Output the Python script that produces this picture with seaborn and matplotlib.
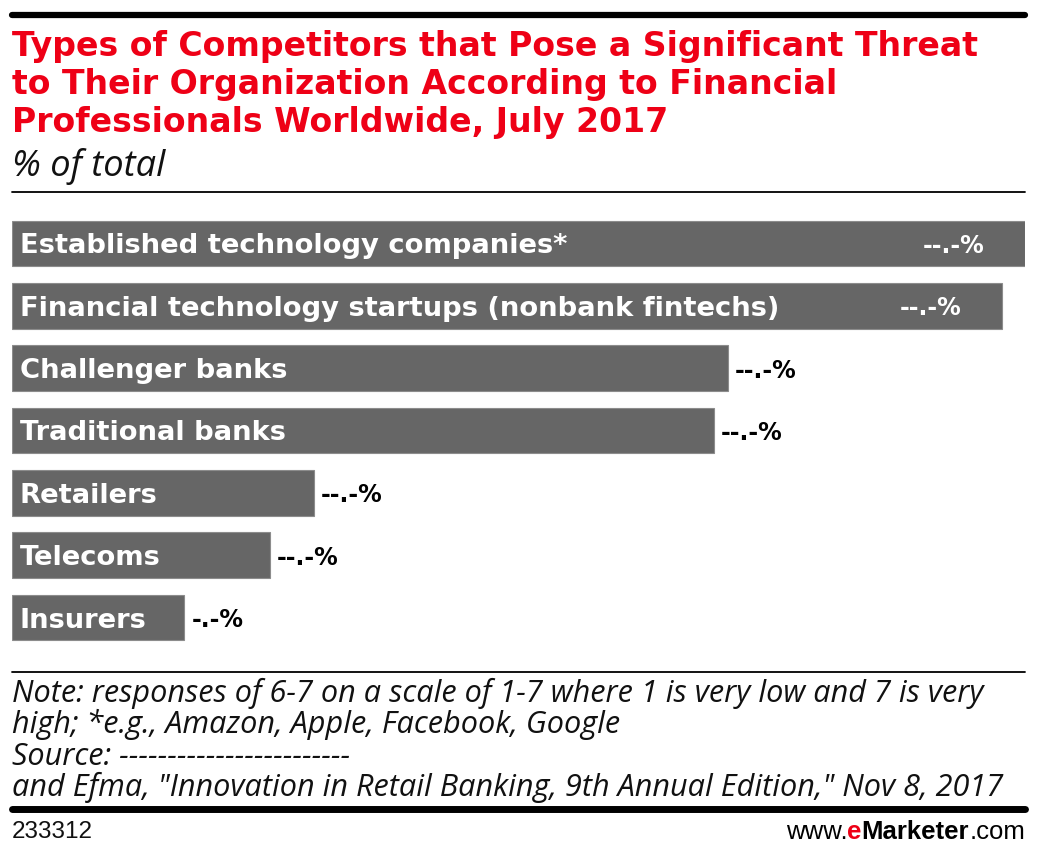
import matplotlib
matplotlib.use("Agg")
import matplotlib.pyplot as plt
from matplotlib.lines import Line2D
import seaborn as sns
import pandas as pd

# data (values masked in the source, lengths estimated)
categories = [
    "Established technology companies*",
    "Financial technology startups (nonbank fintechs)",
    "Challenger banks",
    "Traditional banks",
    "Retailers",
    "Telecoms",
    "Insurers",
]
values = [57.0, 55.7, 40.3, 39.5, 17.0, 14.5, 9.7]
value_labels = ["--.-%", "--.-%", "--.-%", "--.-%", "--.-%", "--.-%", "-.-%"]

title_lines = [
    "Types of Competitors that Pose a Significant Threat",
    "to Their Organization According to Financial",
    "Professionals Worldwide, July 2017",
]
subtitle = "% of total"
notes = [
    "Note: responses of 6-7 on a scale of 1-7 where 1 is very low and 7 is very",
    "high; *e.g., Amazon, Apple, Facebook, Google",
    "Source: ------------------------",
    "and Efma, \"Innovation in Retail Banking, 9th Annual Edition,\" Nov 8, 2017",
]
chart_id = "233312"

W, H = 1038, 858
RED = "#ee0016"
GRAY = "#666666"
BOLD = ["DejaVu Sans"]
ITAL = ["Open Sans", "DejaVu Sans"]

sns.set_style("white")
plt.rcParams["font.family"] = ["DejaVu Sans"]

fig = plt.figure(figsize=(W / 100, H / 100), dpi=100)
r = fig.canvas.get_renderer()


def fx(px):
    return px / W


def fy(py):
    return 1 - py / H


def fit(t, width_px):
    # scale font so the text spans the width measured on the reference
    w = t.get_window_extent(renderer=r).width
    t.set_fontsize(t.get_fontsize() * width_px / w)
    return t.get_fontsize()


ax = fig.add_axes([fx(12), fy(648.7), fx(1025) - fx(12), fy(212.3) - fy(648.7)])
df = pd.DataFrame({"cat": categories, "val": values})
sns.barplot(data=df, y="cat", x="val", orient="h", color=GRAY, saturation=1,
            width=0.73, edgecolor="#8c8c8c", linewidth=0.8, ax=ax)
ax.set_xlim(0, max(values))
ax.set_ylim(len(categories) - 0.5, -0.5)
ax.set_axis_off()

cat_texts = []
for i, (v, lab) in enumerate(zip(values, value_labels)):
    t = ax.annotate(categories[i], xy=(0, i), xytext=(8, 0), textcoords="offset pixels",
                    ha="left", va="center_baseline", color="white", fontsize=18,
                    fontweight="bold", family=BOLD)
    cat_texts.append(t)
    if v > 50:
        ax.annotate(lab, xy=(v, i), xytext=(-40, 0), textcoords="offset pixels",
                    ha="right", va="center_baseline", color="white", fontsize=17,
                    fontweight="bold", family=BOLD)
    else:
        ax.annotate(lab, xy=(v, i), xytext=(7, 0), textcoords="offset pixels",
                    ha="left", va="center_baseline", color="black", fontsize=17,
                    fontweight="bold", family=BOLD)
s = fit(cat_texts[0], 550)
for t in cat_texts:
    t.set_fontsize(s)

# rules
fig.add_artist(Line2D([fx(12), fx(1025)], [fy(15), fy(15)], color="black", lw=4.5))
fig.add_artist(Line2D([fx(12), fx(1025)], [fy(192), fy(192)], color="black", lw=1.3))
fig.add_artist(Line2D([fx(12), fx(1025)], [fy(672), fy(672)], color="black", lw=1.3))
fig.add_artist(Line2D([fx(12), fx(1025)], [fy(808.5), fy(808.5)], color="black", lw=5))

ttl = []
for k, line in enumerate(title_lines):
    ttl.append(fig.text(fx(12), fy(56 + 37.8 * k), line, ha="left", va="baseline",
                        color=RED, fontsize=24, fontweight="bold", family=BOLD))
s = fit(ttl[0], 966)
for t in ttl:
    t.set_fontsize(s)

sub = fig.text(fx(12), fy(176), subtitle, ha="left", va="baseline", fontsize=22,
               style="italic", color="#111111", family=ITAL)
fit(sub, 153)

nt = []
for k, line in enumerate(notes):
    nt.append(fig.text(fx(12), fy(702 + 31.3 * k), line, ha="left", va="baseline",
                       fontsize=19, style="italic", color="#111111", family=ITAL))
s = fit(nt[0], 972)
for t in nt:
    t.set_fontsize(s)

idt = fig.text(fx(12), fy(838), chart_id, ha="left", va="baseline", fontsize=15,
               color="#111111", family=["Liberation Sans"])
fit(idt, 81)

# www.eMarketer.com, built right to left
x_right = 1025
parts = [(".com", "normal", "black"), ("Marketer", "bold", "black"),
         ("e", "bold", RED), ("www.", "normal", "black")]
for txt, wt, col in parts:
    t = fig.text(fx(x_right), fy(839), txt, ha="right", va="baseline", fontsize=18.5,
                 fontweight=wt, color=col, family=["Liberation Sans"])
    bb = t.get_window_extent(renderer=r)
    x_right -= bb.width

fig.savefig("out.png", dpi=100)
